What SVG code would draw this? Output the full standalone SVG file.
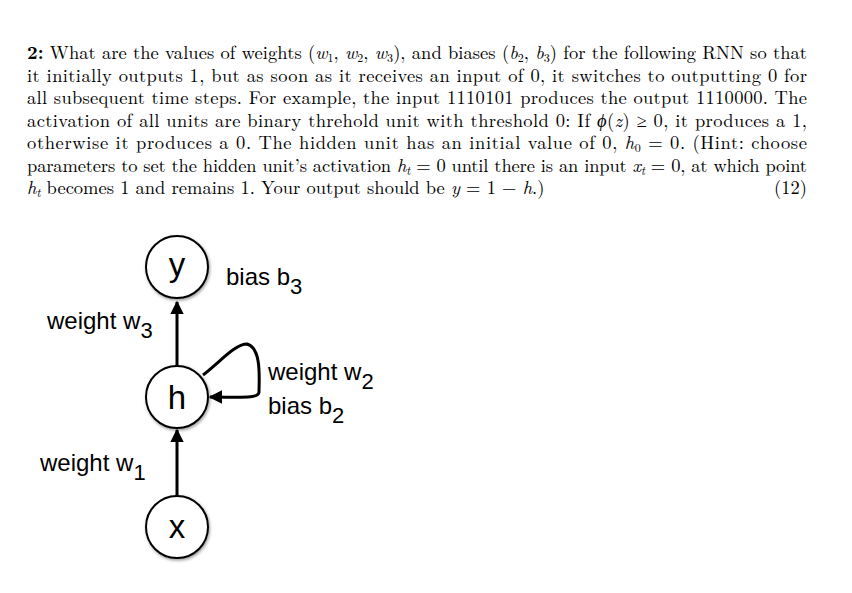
<svg xmlns="http://www.w3.org/2000/svg" width="852" height="593" viewBox="0 0 852 593">
<style>
.t{font-family:"Latin Modern Roman","Liberation Serif",serif;font-size:18.5px;fill:#000}
.i{font-style:italic}
.l{font-family:"Liberation Sans",Arial,sans-serif;font-size:24px;fill:#000}
.n{fill:#fff;stroke:#000;stroke-width:2}
.c{fill:none;stroke:#000;stroke-width:3}
.k{font-family:"Liberation Sans",Arial,sans-serif;font-size:33px;fill:#000}
</style>
<defs>
<marker id="a" viewBox="0 0 10 10" refX="9" refY="5" markerWidth="4.5" markerHeight="4.5" orient="auto" markerUnits="strokeWidth"><path d="M0,0L10,5L0,10z" fill="#000"/></marker>
<filter id="s"><feDropShadow dx="1" dy="1.5" stdDeviation="1.5" flood-opacity="0.4"/></filter>
</defs>
<rect width="852" height="593" fill="#fff"/>
<g id="question">
<text class="t" x="27" y="59" textLength="780" lengthAdjust="spacing"><tspan font-weight="bold">2:</tspan> What are the values of weights (<tspan class="i">w</tspan><tspan font-size="12" dy="3">1</tspan><tspan dy="-3">, </tspan><tspan class="i">w</tspan><tspan font-size="12" dy="3">2</tspan><tspan dy="-3">, </tspan><tspan class="i">w</tspan><tspan font-size="12" dy="3">3</tspan><tspan dy="-3">), and biases (</tspan><tspan class="i">b</tspan><tspan font-size="12" dy="3">2</tspan><tspan dy="-3">, </tspan><tspan class="i">b</tspan><tspan font-size="12" dy="3">3</tspan><tspan dy="-3">) for the following RNN so that</tspan></text>
<text class="t" x="27" y="81.5" textLength="780" lengthAdjust="spacing">it initially outputs 1, but as soon as it receives an input of 0, it switches to outputting 0 for</text>
<text class="t" x="27" y="104" textLength="780" lengthAdjust="spacing">all subsequent time steps.  For example, the input 1110101 produces the output 1110000.  The</text>
<text class="t" x="27" y="126.5" textLength="780" lengthAdjust="spacing">activation of all units are binary threhold unit with threshold 0: If <tspan class="i">ϕ</tspan>(<tspan class="i">z</tspan>) ≥ 0, it produces a 1,</text>
<text class="t" x="27" y="149" textLength="780" lengthAdjust="spacing">otherwise it produces a 0.  The hidden unit has an initial value of 0, <tspan class="i">h</tspan><tspan font-size="12" dy="3">0</tspan><tspan dy="-3"> = 0.  (Hint: choose</tspan></text>
<text class="t" x="27" y="171.5" textLength="780" lengthAdjust="spacing">parameters to set the hidden unit’s activation <tspan class="i">h</tspan><tspan font-size="12" dy="3" class="i">t</tspan><tspan dy="-3"> = 0 until there is an input </tspan><tspan class="i">x</tspan><tspan font-size="12" dy="3" class="i">t</tspan><tspan dy="-3"> = 0, at which point</tspan></text>
<text class="t" x="27" y="194"><tspan class="i">h</tspan><tspan font-size="12" dy="3" class="i">t</tspan><tspan dy="-3"> becomes 1 and remains 1. Your output should be </tspan><tspan class="i">y</tspan> = 1 − <tspan class="i">h</tspan>.)</text>
<text class="t" x="807" y="194" text-anchor="end">(12)</text>
</g>
<g id="edges">
<line class="c" x1="177" y1="366" x2="177" y2="302" marker-end="url(#a)"/>
<line class="c" x1="177" y1="496" x2="177" y2="430" marker-end="url(#a)"/>
<path class="c" d="M203,375 C220,362 235,344 247,344 C262,348 259,380 259,392 C259,399 240,397 210,397" marker-end="url(#a)"/>
</g>
<g id="node-y"><circle class="n" filter="url(#s)" cx="177" cy="267" r="31"/><text class="k" x="177" y="276" text-anchor="middle">y</text></g>
<g id="node-h"><circle class="n" filter="url(#s)" cx="177" cy="397" r="31"/><text class="k" x="177" y="409" text-anchor="middle">h</text></g>
<g id="node-x"><circle class="n" filter="url(#s)" cx="177" cy="527" r="31"/><text class="k" x="177" y="538" text-anchor="middle">x</text></g>
<g id="labels">
<text class="l" x="226" y="285">bias b<tspan font-size="22" dy="9">3</tspan></text>
<text class="l" x="47" y="329">weight w<tspan font-size="22" dy="9">3</tspan></text>
<text class="l" x="268" y="380">weight w<tspan font-size="22" dy="9">2</tspan></text>
<text class="l" x="268" y="414">bias b<tspan font-size="22" dy="9">2</tspan></text>
<text class="l" x="40" y="471">weight w<tspan font-size="22" dy="9">1</tspan></text>
</g>
</svg>
